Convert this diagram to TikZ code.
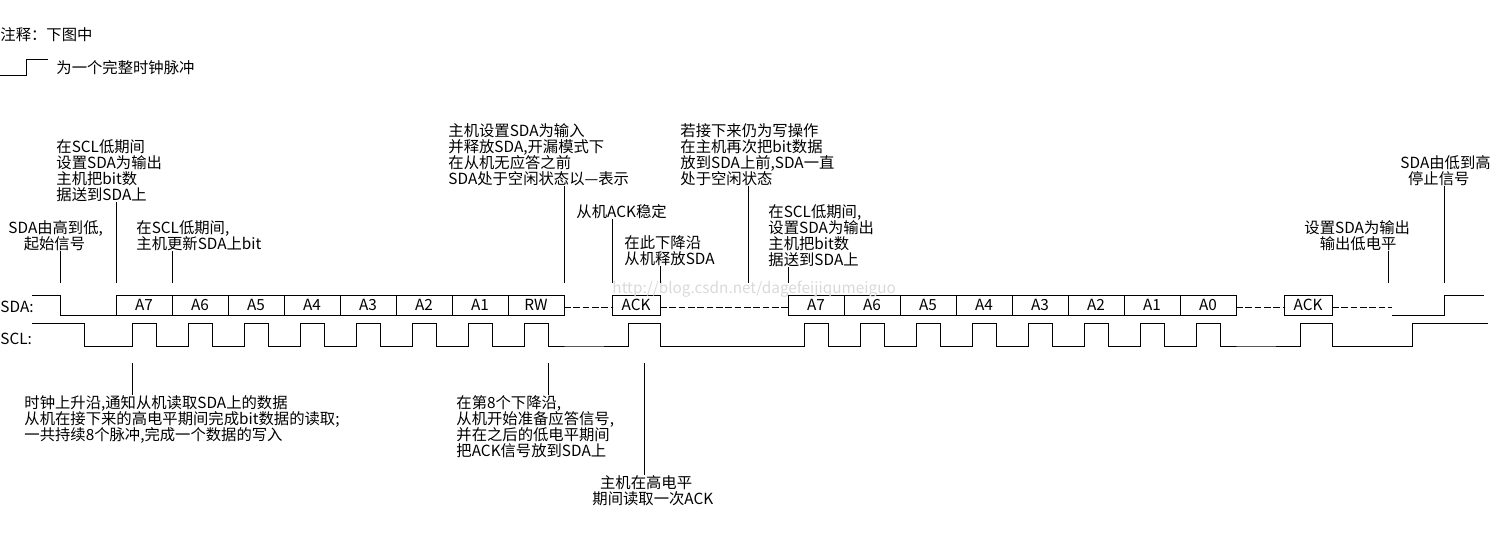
\documentclass[tikz,border=0pt]{standalone}
\usepackage{fontspec}
\setmainfont{Noto Sans CJK SC}
\begin{document}
\begin{tikzpicture}[x=0.75pt,y=-0.75pt,line width=0.7pt,
  note/.style={anchor=north west,inner sep=0pt,align=left,font=\fontsize{11.5}{12}\selectfont},
  sig/.style={anchor=west,inner sep=0pt,font=\fontsize{11.5}{12}\selectfont},
  idle/.style={dash pattern=on 5pt off 2pt}]
\useasboundingbox (0,0) rectangle (1508,555);
% legend
\node[sig] (title) at (0,35) {注释：下图中};
\draw (0,75) -- (26,75) -- (26,59) -- (48,59);
\node[sig] (legend) at (56,68) {为一个完整时钟脉冲};
% SDA row
\node[sig] (sdalbl) at (0,307) {SDA:};
\draw (32,295) -- (60,295) -- (60,315) -- (116,315);
\foreach \lbl [count=\i from 0] in {A7,A6,A5,A4,A3,A2,A1,RW}
  \draw ({116+56*\i},295) rectangle ++(56,20) node[midway,sig,anchor=center] {\lbl};
\draw[idle] (564,307) -- (612,307);
\draw (612,295) rectangle (660,315) node[midway,sig,anchor=center] {ACK};
\draw[idle] (660,307) -- (788,307);
\foreach \lbl [count=\i from 0] in {A7,A6,A5,A4,A3,A2,A1,A0}
  \draw ({788+56*\i},295) rectangle ++(56,20) node[midway,sig,anchor=center] {\lbl};
\draw[idle] (1236,307) -- (1284,307);
\draw (1284,295) rectangle (1332,315) node[midway,sig,anchor=center] {ACK};
\draw[idle] (1332,307) -- (1392,307);
\draw (1392,315) -- (1444,315) -- (1444,295) -- (1484,295);
% SCL row
\node[sig] (scllbl) at (0,339) {SCL:};
\draw (32,323) -- (84,323) -- (84,346) -- (132,346)
  \foreach \k in {0,...,7} { -- ({132+56*\k},323) -- ({156+56*\k},323) -- ({156+56*\k},346) -- ({188+56*\k},346) }
  -- (628,346) -- (628,323) -- (660,323) -- (660,346) -- (804,346)
  \foreach \k in {0,...,7} { -- ({804+56*\k},323) -- ({828+56*\k},323) -- ({828+56*\k},346) -- ({860+56*\k},346) }
  -- (1300,346) -- (1300,323) -- (1332,323) -- (1332,346) -- (1412,346) -- (1412,323) -- (1488,323);
\node[sig,text=black!15] (mark) at (612,289) {http://blog.csdn.net/dagefeijiqumeiguo};
% notes above
\node[note] (setout) at (56,139) {在SCL低期间\\设置SDA为输出\\主机把bit数\\据送到SDA上};
\node[note] (start) at (8,220) {SDA由高到低,\\\hspace*{1em}起始信号};
\node[note] (update) at (136,220) {在SCL低期间,\\主机更新SDA上bit};
\node[note] (release) at (448,123) {主机设置SDA为输入\\并释放SDA,开漏模式下\\在从机无应答之前\\SDA处于空闲状态以---表示};
\node[note] (ackok) at (576,204) {从机ACK稳定};
\node[note] (slvfree) at (624,235) {在此下降沿\\从机释放SDA};
\node[note] (idlewr) at (680,123) {若接下来仍为写操作\\在主机再次把bit数据\\放到SDA上前,SDA一直\\处于空闲状态};
\node[note] (setout2) at (768,204) {在SCL低期间,\\设置SDA为输出\\主机把bit数\\据送到SDA上};
\node[note] (low) at (1304,220) {设置SDA为输出\\\hspace*{1em}输出低电平};
\node[note] (stop) at (1400,155) {SDA由低到高\\\hspace*{0.5em}停止信号};
% notes below
\node[note] (rise) at (24,395) {时钟上升沿,通知从机读取SDA上的数据\\从机在接下来的高电平期间完成bit数据的读取;\\一共持续8个脉冲,完成一个数据的写入};
\node[note] (fall8) at (456,395) {在第8个下降沿,\\从机开始准备应答信号,\\并在之后的低电平期间\\把ACK信号放到SDA上};
\node[note] (readack) at (592,475) {\hspace*{0.5em}主机在高电平\\期间读取一次ACK};
% pointers
\foreach \px/\blk in {60/start,116/setout,172/update,564/release,612/ackok,660/slvfree,748/idlewr,788/setout2,1388/low,1444/stop}
  \draw (\px,283) -- (\px,0 |- \blk.south);
\foreach \px/\blk in {132/rise,548/fall8,644/readack}
  \draw (\px,363) -- (\px,0 |- \blk.north);
\end{tikzpicture}
\end{document}
